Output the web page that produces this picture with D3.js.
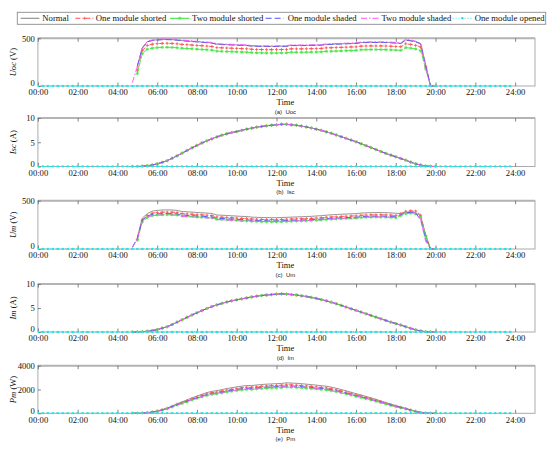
<!DOCTYPE html>
<html><head><meta charset="utf-8">
<script src="https://cdn.jsdelivr.net/npm/d3@7"></script>
<style>
body{margin:0;background:#fff}svg{display:block}
.serif{font-family:"Liberation Serif","Times New Roman",Times,serif}
.sans{font-family:"Liberation Sans",Arial,Helvetica,sans-serif}
</style>
</head><body>
<svg id="c" width="550" height="454"></svg>
<script>
// ---------- DATA ----------
const seriesNames = ["Normal","One module shorted","Two module shorted","One module shaded","Two module shaded","One module opened"];

const dayHours = [4.75,
 5,5.25,5.5,5.75, 6,6.25,6.5,6.75, 7,7.25,7.5,7.75, 8,8.25,8.5,8.75,
 9,9.25,9.5,9.75, 10,10.25,10.5,10.75, 11,11.25,11.5,11.75, 12,12.25,12.5,12.75,
 13,13.25,13.5,13.75, 14,14.25,14.5,14.75, 15,15.25,15.5,15.75, 16,16.25,16.5,16.75,
 17,17.25,17.5,17.75, 18,18.25,18.5,18.75, 19,19.25,19.5,19.75,
 20];

// Uoc (V)
const uocNormal = [null,
 200,400,465,478, 484,487,488,486, 482,476,472,468, 464,460,456,452,
 438,436,434,432, 430,428,426,420, 418,417,416,416, 416,417,418,426,
 425,425,426,427, 428,430,436,438, 440,442,444,446, 448,456,457,458,
 458,458,457,455, 450,448,482,475, 465,445,230,0,
 0];
const uocShort1 = [null,
 160,370,425,438, 444,447,448,446, 442,436,433,429, 425,422,418,414,
 402,400,398,396, 394,392,390,385, 383,382,381,381, 381,382,383,390,
 389,389,390,391, 392,394,400,401, 403,405,407,409, 410,418,419,420,
 420,420,419,417, 414,411,442,436, 426,408,200,0,
 0];
const uocShort2 = [null,
 130,340,385,396, 402,405,406,404, 401,396,393,390, 386,383,380,376,
 365,363,361,360, 358,356,354,350, 348,347,346,346, 346,347,348,354,
 353,353,354,355, 356,358,363,364, 366,368,370,371, 373,380,381,382,
 382,382,381,379, 376,373,402,397, 388,370,180,0,
 0];
const uocShade1 = [null,
 210,395,462,476, 482,485,486,484, 480,474,470,466, 462,458,454,450,
 436,434,432,430, 428,426,424,418, 416,415,414,414, 414,415,416,424,
 423,423,424,425, 426,428,434,436, 438,440,442,444, 446,454,455,456,
 456,456,455,453, 450,446,480,473, 463,440,210,0,
 0];
const uocShade2 = [35,
 205,400,468,483, 490,493,494,492, 488,481,477,473, 469,465,461,457,
 443,441,439,437, 435,433,431,425, 423,422,421,421, 421,422,423,431,
 430,430,431,432, 433,435,441,443, 445,447,449,451, 453,461,462,463,
 463,463,462,460, 457,452,490,482, 470,445,190,0,
 0];

// Isc (A) - all working series overlap
const iscValues = [0,
 0,0.05,0.15,0.3, 0.55,0.85,1.2,1.7, 2.2,2.75,3.3,3.85, 4.35,4.85,5.3,5.7,
 6.1,6.45,6.75,7.0, 7.2,7.45,7.7,7.9, 8.1,8.25,8.4,8.5, 8.6,8.7,8.7,8.6,
 8.5,8.35,8.15,7.95, 7.7,7.45,7.15,6.85, 6.5,6.15,5.8,5.45, 5.1,4.7,4.3,3.9,
 3.5,3.1,2.7,2.35, 2.0,1.65,1.3,0.9, 0.55,0.3,0.1,0.02,
 0];

// Um (V)
const umNormal = [null,
 120,320,365,392, 400,404,405,404, 400,388,385,382, 378,375,372,368,
 352,350,347,344, 341,338,336,330, 328,326,325,324, 324,326,328,330,
 332,334,336,338, 342,345,350,354, 357,360,362,364, 366,372,374,376,
 377,377,376,374, 370,368,380,384, 375,340,150,0,
 0];
const umShort1 = [null,
 100,300,345,370, 378,381,382,381, 378,366,363,360, 356,353,350,346,
 331,329,326,323, 320,317,315,310, 308,306,305,304, 304,306,308,310,
 312,313,315,317, 320,323,328,331, 334,337,339,341, 343,349,351,353,
 354,354,353,351, 347,365,390,395, 392,350,140,0,
 0];
const umShort2 = [null,
 90,280,325,345, 352,355,356,355, 352,342,339,336, 332,329,326,322,
 308,306,303,300, 297,294,292,287, 285,283,282,281, 281,283,285,287,
 289,290,292,294, 297,300,305,308, 311,313,315,317, 319,325,327,329,
 330,330,329,327, 323,345,365,370, 362,330,130,0,
 0];
const umShade1 = [20,
 110,300,340,358, 364,367,368,367, 364,352,349,346, 342,339,336,332,
 318,316,313,310, 307,304,302,297, 295,293,292,291, 291,293,295,297,
 299,300,302,304, 307,310,315,318, 321,323,325,327, 329,335,337,339,
 340,340,339,337, 333,355,375,380, 372,300,100,0,
 0];
const umShade2 = [15,
 100,290,330,345, 350,352,353,352, 349,338,335,332, 328,325,322,318,
 304,302,299,296, 293,290,288,290, 288,286,285,284, 284,286,288,290,
 292,293,295,297, 300,303,308,311, 314,316,318,320, 322,328,330,332,
 333,333,332,330, 326,360,385,388, 378,310,80,0,
 0];

// Im (A)
const imValues = [0,
 0,0.05,0.15,0.3, 0.5,0.8,1.1,1.55, 2.05,2.55,3.05,3.55, 4.0,4.45,4.9,5.3,
 5.65,5.95,6.25,6.5, 6.7,6.9,7.1,7.3, 7.45,7.6,7.7,7.8, 7.9,7.95,7.9,7.8,
 7.7,7.55,7.4,7.2, 7.0,6.75,6.5,6.2, 5.9,5.55,5.2,4.85, 4.5,4.15,3.8,3.45,
 3.1,2.75,2.4,2.05, 1.75,1.45,1.1,0.75, 0.45,0.2,0.05,0,
 0];

// Pm (W)
const pmNormal = [0,
 0,15,50,110, 190,310,440,620, 800,960,1130,1300, 1450,1600,1740,1850,
 1900,1990,2080,2150, 2220,2280,2330,2330, 2380,2420,2450,2470, 2490,2510,2560,2540,
 2520,2490,2450,2410, 2370,2320,2280,2200, 2110,2000,1890,1770, 1650,1540,1420,1300,
 1170,1040,900,770, 650,530,420,290, 170,70,10,0,
 0];
const pmShort1 = [0,
 0,14,47,103, 178,290,412,580, 750,900,1060,1220, 1360,1500,1630,1735,
 1780,1865,1950,2015, 2080,2140,2185,2185, 2230,2270,2300,2315, 2335,2355,2400,2380,
 2360,2335,2300,2260, 2220,2175,2140,2065, 1980,1875,1770,1660, 1545,1445,1330,1220,
 1100,975,845,720, 610,500,395,270, 160,65,10,0,
 0];
const pmShort2 = [0,
 0,13,43,95, 163,265,378,533, 688,825,972,1118, 1247,1376,1496,1591,
 1634,1711,1789,1849, 1909,1961,2004,2004, 2047,2081,2107,2124, 2141,2159,2202,2184,
 2167,2141,2107,2073, 2038,1995,1961,1892, 1815,1720,1625,1522, 1419,1324,1221,1118,
 1006,894,774,662, 559,456,361,249, 146,60,9,0,
 0];
const pmShade1 = [0,
 0,14,45,99, 171,279,396,558, 720,864,1017,1170, 1305,1440,1566,1665,
 1710,1791,1872,1935, 1998,2052,2097,2097, 2142,2178,2205,2223, 2241,2259,2304,2286,
 2268,2241,2205,2169, 2133,2088,2052,1980, 1899,1800,1701,1593, 1485,1386,1278,1170,
 1053,936,810,693, 585,477,378,261, 153,63,9,0,
 0];
const pmShade2 = [0,
 0,13,44,97, 167,273,387,546, 704,845,994,1144, 1276,1408,1531,1628,
 1672,1751,1830,1892, 1954,2006,2050,2050, 2094,2130,2156,2174, 2191,2209,2253,2235,
 2218,2191,2156,2121, 2086,2042,2006,1936, 1857,1760,1663,1558, 1452,1355,1250,1144,
 1030,915,792,678, 572,466,370,255, 150,62,9,0,
 0];

// One module opened: zero all day, every 15 minutes
const openedHours = d3.range(0, 24, 0.25);
const openedValues = [
 0,0,0,0,0,0,0,0,0,0,0,0, 0,0,0,0,0,0,0,0,0,0,0,0,
 0,0,0,0,0,0,0,0,0,0,0,0, 0,0,0,0,0,0,0,0,0,0,0,0,
 0,0,0,0,0,0,0,0,0,0,0,0, 0,0,0,0,0,0,0,0,0,0,0,0,
 0,0,0,0,0,0,0,0,0,0,0,0, 0,0,0,0,0,0,0,0,0,0,0,0];

const xTickValues = [0,2,4,6,8,10,12,14,16,18,20,22,24];
const xTickLabels = ["00:00","02:00","04:00","06:00","08:00","10:00","12:00","14:00","16:00","18:00","20:00","22:00","24:00"];

const uocTicks = [0,500], iscTicks = [0,5,10], umTicks = [0,500], imTicks = [0,5,10], pmTicks = [0,2000,4000];

// ---------- STYLE ----------
const styles = [
  {color:"#8a8a8a", dash:null, marker:null},
  {color:"#ff5050", dash:"5,2,1,2", marker:"plus"},
  {color:"#3ee83e", dash:"6,1.5", marker:"star"},
  {color:"#5050ff", dash:"6,3", marker:null},
  {color:"#ff50ff", dash:"6,2,1.5,2", marker:null},
  {color:"#22e6e6", dash:"1,2", marker:"dot"}
];

const panels = [
  {sym:"Uoc", unit:" (V)", sub:"(a)  Uoc", top:38.3, bottom:86, domain:[0,500], ticks:uocTicks,
   series:[uocNormal,uocShort1,uocShort2,uocShade1,uocShade2]},
  {sym:"Isc", unit:" (A)", sub:"(b)  Isc", top:118, bottom:166.5, domain:[0,10], ticks:iscTicks,
   series:[iscValues,iscValues,iscValues,iscValues,iscValues]},
  {sym:"Um", unit:" (V)", sub:"(c)  Um", top:200.7, bottom:249, domain:[0,500], ticks:umTicks,
   series:[umNormal,umShort1,umShort2,umShade1,umShade2]},
  {sym:"Im", unit:" (A)", sub:"(d)  Im", top:284, bottom:332, domain:[0,10], ticks:imTicks,
   series:[imValues,imValues,imValues,imValues,imValues]},
  {sym:"Pm", unit:" (W)", sub:"(e)  Pm", top:365.7, bottom:413.3, domain:[0,4000], ticks:pmTicks,
   series:[pmNormal,pmShort1,pmShort2,pmShade1,pmShade2]}
];

// ---------- DRAW ----------
const svg = d3.select("#c");
const X0 = 37.9, X1 = 535;
const x = d3.scaleLinear().domain([0,25]).range([X0, X1]);
const FS = 8.6;

function drawMarker(g, type, cx, cy, color) {
  if (type === "plus") {
    g.append("path").attr("d",`M${cx-1.6},${cy}H${cx+1.6}M${cx},${cy-1.6}V${cy+1.6}`)
      .attr("stroke",color).attr("stroke-width",0.8).attr("fill","none");
  } else if (type === "star") {
    g.append("path").attr("d",`M${cx-1.6},${cy}H${cx+1.6}M${cx},${cy-1.6}V${cy+1.6}M${cx-1.1},${cy-1.1}L${cx+1.1},${cy+1.1}M${cx-1.1},${cy+1.1}L${cx+1.1},${cy-1.1}`)
      .attr("stroke",color).attr("stroke-width",0.7).attr("fill","none");
  } else if (type === "dot") {
    g.append("circle").attr("cx",cx).attr("cy",cy).attr("r",1.3).attr("fill",color);
  }
}

// Legend
const leg = svg.append("g");
leg.append("rect").attr("x",17.3).attr("y",12.3).attr("width",528.4).attr("height",12)
  .attr("fill","#fff").attr("stroke","#8c8c8c").attr("stroke-width",0.9);
const legLines = [[20.7,39.3,42.3],[75.4,94,95.8],[170,189.5,192],[265.6,284,287.7],[361,379,381.4],[452.6,472,474.7]];
seriesNames.forEach((name,i)=>{
  const [a,b,t] = legLines[i];
  const st = styles[i];
  const yy = 18.3;
  leg.append("line").attr("x1",a).attr("x2",b).attr("y1",yy).attr("y2",yy)
    .attr("stroke",st.color).attr("stroke-width",1.1).attr("stroke-dasharray", i===5 ? "1,2" : (i===0||i===2 ? null : st.dash));
  if (st.marker) drawMarker(leg, st.marker, (a+b)/2, yy, st.color);
  leg.append("text").attr("class","serif").attr("x",t).attr("y",yy).attr("dy","0.35em")
    .attr("font-size",8.7).attr("fill","#111").text(name);
});

panels.forEach((p,pi)=>{
  const y = d3.scaleLinear().domain(p.domain).range([p.bottom, p.top]);
  const g = svg.append("g");
  const clipId = "clip"+pi;
  g.append("clipPath").attr("id",clipId).append("rect")
    .attr("x",X0).attr("y",p.top-1).attr("width",X1-X0).attr("height",p.bottom-p.top+2);

  // frame
  g.append("rect").attr("x",X0).attr("y",p.top).attr("width",X1-X0).attr("height",p.bottom-p.top)
    .attr("fill","none").attr("stroke","#ababab").attr("stroke-width",1);
  g.append("line").attr("x1",X0).attr("x2",X1).attr("y1",p.top).attr("y2",p.top)
    .attr("stroke","#b4b4b4").attr("stroke-width",2);

  // axes
  const ax = g.append("g").attr("transform",`translate(0,${p.bottom})`)
    .call(d3.axisBottom(x).tickValues(xTickValues).tickFormat((d,i)=>xTickLabels[i])
      .tickSizeInner(-3.5).tickSizeOuter(0).tickPadding(3.2));
  const axT = g.append("g").attr("transform",`translate(0,${p.top})`)
    .call(d3.axisTop(x).tickValues(xTickValues).tickFormat("").tickSizeInner(-3.5).tickSizeOuter(0));
  const ay = g.append("g").attr("transform",`translate(${X0},0)`)
    .call(d3.axisLeft(y).tickValues(p.ticks).tickFormat(d3.format("d")).tickSizeInner(-3).tickSizeOuter(0).tickPadding(3));
  [ax,axT,ay].forEach(a=>{
    a.attr("font-family",null);
    a.select(".domain").remove();
    a.selectAll(".tick line").attr("stroke","#666").attr("stroke-width",0.8);
    a.selectAll("text").attr("class","serif").attr("font-size",FS).attr("fill","#111");
  });
  // zero label sits just above the time labels
  ay.selectAll(".tick text").filter(d=>d===0).attr("dy","-0.02em");

  // y label
  const yl = g.append("text").attr("class","serif").attr("transform",`translate(12.8,${(p.top+p.bottom)/2}) rotate(-90)`)
    .attr("text-anchor","middle").attr("dy","0.35em").attr("font-size",FS).attr("fill","#111");
  yl.append("tspan").attr("font-style","italic").text(p.sym);
  yl.append("tspan").text(p.unit);

  // x label + subtitle
  const cx = (X0+X1)/2 - 1;
  g.append("text").attr("class","serif").attr("x",cx).attr("y",p.bottom+16.4).attr("dy","0.35em").attr("text-anchor","middle")
    .attr("font-size",FS).attr("fill","#111").text("Time");
  g.append("text").attr("class","sans").attr("x",cx).attr("y",p.bottom+25.6).attr("dy","0.35em").attr("text-anchor","middle")
    .attr("font-size",6).attr("fill","#222").style("white-space","pre").text(p.sub);

  // series
  const plot = g.append("g").attr("clip-path",`url(#${clipId})`);
  const line = d3.line().defined(d=>d[1]!==null).x(d=>x(d[0])).y(d=>y(d[1]));
  p.series.forEach((vals,si)=>{
    const st = styles[si];
    const pts = dayHours.map((h,i)=>[h, vals[i]]);
    plot.append("path").datum(pts).attr("d",line).attr("fill","none")
      .attr("stroke",st.color).attr("stroke-width",0.9).attr("stroke-dasharray",st.dash);
    if (st.marker) {
      const mg = plot.append("g");
      pts.filter(d=>d[1]!==null).forEach(d=>drawMarker(mg, st.marker, x(d[0]), y(d[1]), st.color));
    }
  });
  // opened series (zero)
  const st = styles[5];
  const opts = openedHours.map((h,i)=>[h, openedValues[i]]);
  plot.append("path").datum(opts).attr("d",line).attr("fill","none")
    .attr("stroke",st.color).attr("stroke-width",0.9).attr("stroke-dasharray","1,2");
  const og = plot.append("g");
  opts.forEach(d=>drawMarker(og,"dot",x(d[0]),y(d[1]),st.color));
});
</script>
</body></html>
